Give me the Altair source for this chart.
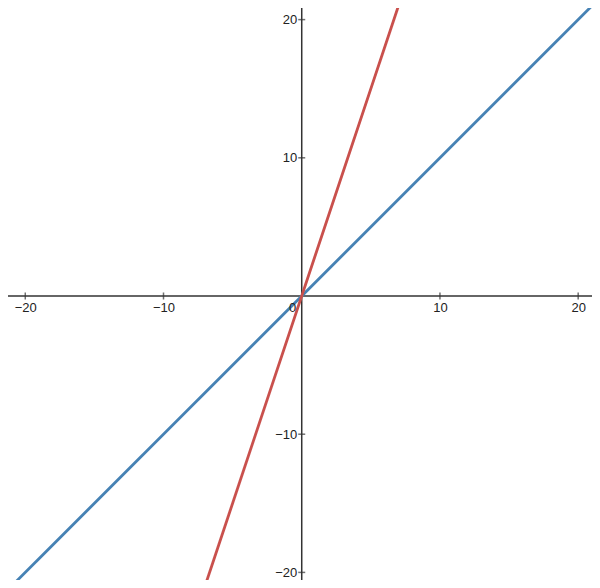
import altair as alt
import pandas as pd

# data
blue_x = [-22.0, 22.0]
blue_y = [-22.0, 22.0]
red_x = [-7.4, 7.4]
red_y = [-22.2, 22.2]
tick_vals = [-20, -10, 10, 20]

x_dom = [-21.25, 21.0]
y_dom = [-20.55, 20.84]

W, H = 584, 572

lines = pd.DataFrame({
    "x": blue_x + red_x,
    "y": blue_y + red_y,
    "f": ["a", "a", "b", "b"],
})
ticks = pd.DataFrame({"v": tick_vals, "z": [0] * len(tick_vals)})
origin = pd.DataFrame({"x": [0], "y": [0], "t": ["0"]})

xs = alt.Scale(domain=x_dom, nice=False, zero=False)
ys = alt.Scale(domain=y_dom, nice=False, zero=False)

# pixel of origin inside plot area
x0 = (0 - x_dom[0]) / (x_dom[1] - x_dom[0]) * W
y0 = (y_dom[1] - 0) / (y_dom[1] - y_dom[0]) * H

lab = dict(labelFont="Liberation Sans", labelFontSize=13, labelColor="#222",
           domain=False, ticks=False, grid=False, title=None)

xaxis = alt.Axis(values=tick_vals, orient="bottom", offset=-(H - y0),
                 labelPadding=5, **lab)
yaxis = alt.Axis(values=tick_vals, orient="left", offset=-x0,
                 labelPadding=5, **lab)

base_axes = alt.Chart(ticks).mark_point(opacity=0).encode(
    x=alt.X("v:Q", scale=xs, axis=xaxis),
    y=alt.Y("v:Q", scale=ys, axis=yaxis),
)

xrule = alt.Chart(origin).mark_rule(color="#333", strokeWidth=1.5).encode(
    y=alt.Y("y:Q", scale=ys))
yrule = alt.Chart(origin).mark_rule(color="#333", strokeWidth=1.5).encode(
    x=alt.X("x:Q", scale=xs))

xt = alt.Chart(ticks).mark_tick(color="#333", size=7, thickness=1.5, orient="vertical").encode(
    x=alt.X("v:Q", scale=xs), y=alt.Y("z:Q", scale=ys))
yt = alt.Chart(ticks).mark_tick(color="#333", size=7, thickness=1.5, orient="horizontal").encode(
    y=alt.Y("v:Q", scale=ys), x=alt.X("z:Q", scale=xs))

zero = alt.Chart(origin).mark_text(font="Liberation Sans", fontSize=13, color="#222",
                                   dx=-9, dy=12).encode(
    x=alt.X("x:Q", scale=xs), y=alt.Y("y:Q", scale=ys), text="t:N")

fn = alt.Chart(lines).mark_line(strokeWidth=2.8, clip=True).encode(
    x=alt.X("x:Q", scale=xs),
    y=alt.Y("y:Q", scale=ys),
    color=alt.Color("f:N", scale=alt.Scale(domain=["a", "b"], range=["#4682b4", "#c9504c"]),
                    legend=None),
    detail="f:N",
)

chart = alt.layer(base_axes, xrule, yrule, xt, yt, fn, zero).properties(
    width=W, height=H, padding=0, autosize="none"
).configure_view(stroke=None)

chart.save("out.html", embed_options={"renderer": "svg", "actions": False})
